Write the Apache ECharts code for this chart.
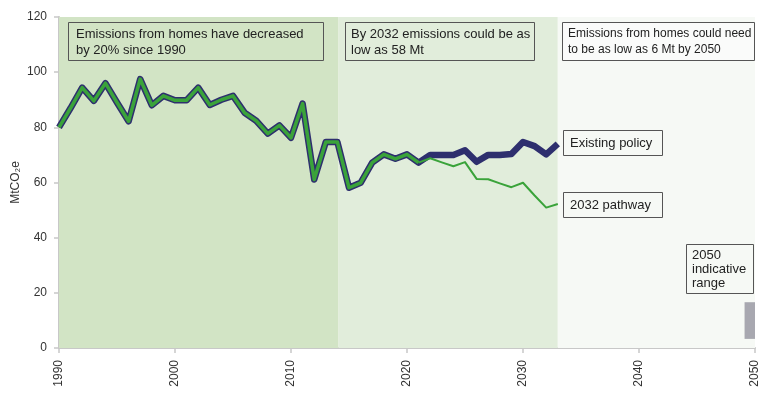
<!DOCTYPE html>
<html lang="en">
<head>
    <meta charset="UTF-8">
    <title>Emissions from homes</title>
    <script src="https://cdn.jsdelivr.net/npm/echarts@6/dist/echarts.min.js"></script>
    <style>
        html, body { margin: 0; padding: 0; background: #fff; }
    </style>
</head>
<body>
    <div id="main" style="width: 768px;height: 397px"></div>
    <script type="application/javascript">
        // historic emissions (MtCO2e)
        var histYears = [1990, 1991, 1992, 1993, 1994, 1995, 1996, 1997, 1998, 1999,
                         2000, 2001, 2002, 2003, 2004, 2005, 2006, 2007, 2008, 2009,
                         2010, 2011, 2012, 2013, 2014, 2015, 2016, 2017, 2018, 2019,
                         2020, 2021];
        var histValues = [80, 87, 94.4, 89.6, 96, 89, 82.2, 97.5, 88, 91.4,
                          89.8, 89.8, 94.4, 88.1, 90, 91.4, 85.3, 82.4, 77.7, 80.7,
                          76.2, 88.6, 61.1, 74.7, 74.7, 58.1, 59.9, 67.2, 70.2, 68.6,
                          70.2, 67.2];

        // projections
        var projYears = [2021, 2022, 2023, 2024, 2025, 2026, 2027, 2028, 2029, 2030, 2031, 2032, 2033];
        var existingPolicy = [67.2, 70, 70, 70, 71.7, 67.5, 70, 70, 70.3, 74.7, 73.2, 70.2, 74];
        var pathway2032 = [67.2, 68.8, 67.3, 65.9, 67.4, 61.3, 61.2, 59.7, 58.3, 59.9, 55.3, 50.9, 52.2];

        // shaded periods and 2050 range
        var periods = [[1990, 2014.1], [2014.1, 2033], [2033, 2050]];
        var periodColors = ['#d2e4c5', '#e1eddb', '#f6f9f5'];
        var range2050 = [3.3, 16.6];
        var xTicks = [1990, 2050, 10];
        var yTicks = [0, 120, 20];

        function pairs(xs, ys) {
            var out = [];
            for (var i = 0; i < xs.length; i++) out.push([xs[i], ys[i]]);
            return out;
        }

        var histData = pairs(histYears, histValues);
        var existingData = histData.slice(0, histData.length - 1).concat(pairs(projYears, existingPolicy));
        var pathwayData = pairs(projYears, pathway2032);

        var font = '"Liberation Sans", Arial, Helvetica, sans-serif';

        function box(text, left, top, pad, size, lh, bg) {
            return {
                text: text,
                left: left,
                top: top,
                padding: pad,
                borderColor: '#555',
                borderWidth: 1,
                backgroundColor: bg || 'transparent',
                textStyle: {
                    fontFamily: font,
                    fontSize: size,
                    fontWeight: 'normal',
                    color: '#222',
                    lineHeight: lh
                }
            };
        }

        var myChart = echarts.init(document.getElementById('main'));

        var option = {
            animation: false,
            title: [
                box('Emissions from homes have decreased\nby 20% since 1990', 68, 22, [4, 20, 3, 8], 13, 16),
                box('By 2032 emissions could be as\nlow as 58 Mt', 345, 22, [4, 5, 3, 6], 13, 16),
                box('Emissions from homes could need\nto be as low as 6 Mt by 2050', 562, 22, [4, 3, 3, 6], 12, 16, '#fafbfa'),
                box('Existing policy', 563, 130, [5, 10, 5, 7], 13, 16),
                box('2032 pathway', 563, 192, [5, 12, 5, 7], 13, 16),
                box('2050\nindicative\nrange', 686, 244, [4, 8, 4, 6], 13, 14)
            ],
            grid: {
                left: 59,
                right: 13,
                top: 17,
                bottom: 49,
                containLabel: false,
                outerBoundsMode: 'none'
            },
            xAxis: {
                type: 'value',
                min: xTicks[0],
                max: xTicks[1],
                interval: xTicks[2],
                splitLine: { show: false },
                axisLine: { lineStyle: { color: '#c8c8c8', width: 2 } },
                axisTick: { length: 5, lineStyle: { color: '#c8c8c8', width: 1.5 } },
                axisLabel: {
                    rotate: 90,
                    margin: 12,
                    fontFamily: font,
                    fontSize: 12,
                    color: '#333',
                    formatter: function (v) { return String(v); }
                }
            },
            yAxis: {
                type: 'value',
                min: yTicks[0],
                max: yTicks[1],
                interval: yTicks[2],
                name: 'MtCO\u2082e',
                nameLocation: 'middle',
                nameGap: 37,
                nameMoveOverlap: false,
                nameTextStyle: { fontFamily: font, fontSize: 12, color: '#333' },
                splitLine: { show: false },
                axisLine: { show: true, lineStyle: { color: '#c8c8c8', width: 2 } },
                axisTick: { show: true, length: 5, lineStyle: { color: '#c8c8c8', width: 1.5 } },
                axisLabel: { fontFamily: font, fontSize: 12, color: '#333', margin: 12 }
            },
            series: [
                {
                    name: 'Existing policy',
                    type: 'line',
                    data: existingData,
                    symbol: 'none',
                    lineStyle: { color: '#2e2f6e', width: 6.5, join: 'round' },
                    markArea: {
                        silent: true,
                        data: [
                            [{ xAxis: periods[0][0], itemStyle: { color: periodColors[0] } }, { xAxis: periods[0][1] }],
                            [{ xAxis: periods[1][0], itemStyle: { color: periodColors[1] } }, { xAxis: periods[1][1] }],
                            [{ xAxis: periods[2][0], itemStyle: { color: periodColors[2] } }, { xAxis: periods[2][1] }],
                            [{ xAxis: 2049.1, yAxis: range2050[0], itemStyle: { color: '#a8a8b0' } },
                             { xAxis: 2050, yAxis: range2050[1] }]
                        ]
                    }
                },
                {
                    name: 'Historic',
                    type: 'line',
                    data: histData,
                    symbol: 'none',
                    lineStyle: { color: '#3aa33a', width: 3.5, join: 'round' }
                },
                {
                    name: '2032 pathway',
                    type: 'line',
                    data: pathwayData,
                    symbol: 'none',
                    lineStyle: { color: '#3aa33a', width: 2, join: 'round' }
                }
            ]
        };

        myChart.setOption(option, true);
    </script>
</body>
</html>
